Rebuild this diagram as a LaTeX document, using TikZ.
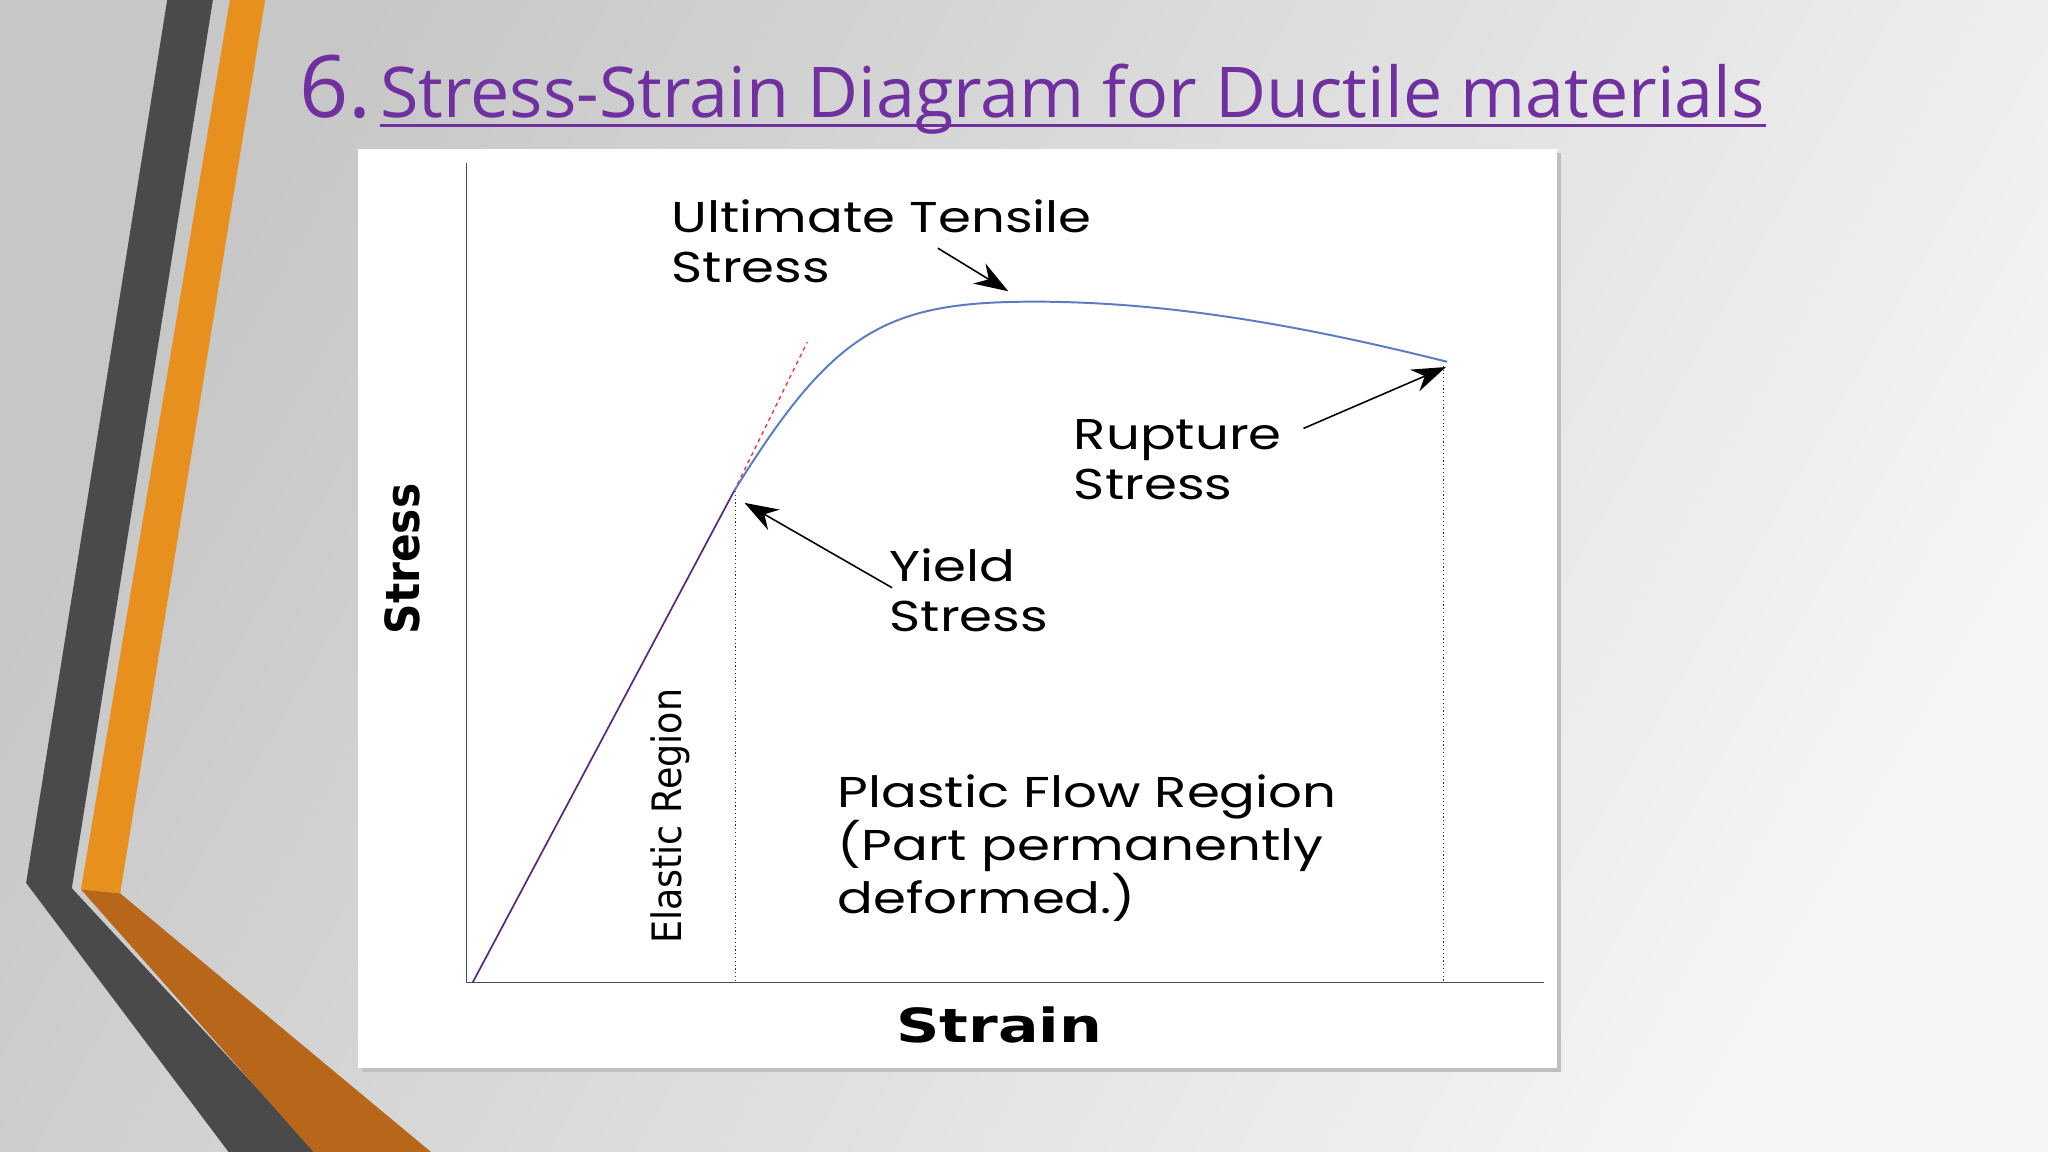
\documentclass[tikz,border=0pt]{standalone}
\usepackage{fontspec}
\setmainfont{DejaVu Sans}
\newfontfamily\titlefont{Open Sans}
\newfontfamily\chartfont{Poppins}
\usetikzlibrary{arrows.meta}
\definecolor{ttl}{HTML}{7030A0}
\definecolor{dgray}{HTML}{4A4A4A}
\definecolor{org}{HTML}{E8901E}
\definecolor{orgd}{HTML}{B8661A}
\definecolor{crv}{HTML}{5B7BC4}
\tikzset{
  lbl/.style={align=left,anchor=north west,inner sep=0pt,xscale=1.23,font=\chartfont\fontsize{33}{38}\selectfont},
  ax/.style={line width=1pt,black!70},
  dotl/.style={line width=0.9pt,dotted,black!80},
  arr/.style={line width=1.2pt,-{Stealth[length=26pt,width=18pt]}}
}
\begin{document}
\begin{tikzpicture}[x=1pt,y=-1pt]
\useasboundingbox (0,0) rectangle (1568,882);
\shade[left color=black!22,right color=white!96!black,shading angle=60] (0,0) rectangle (1568,882);
% left decoration
\fill[dgray] (128,0) -- (163,0) -- (55,680) -- (242,882) -- (175,882) -- (20,676) -- cycle;
\fill[org] (176,0) -- (203,0) -- (92,684) -- (62,681) -- cycle;
\fill[orgd] (62,681) -- (92,684) -- (330,882) -- (240,882) -- cycle;
% title
\node[anchor=base west,inner sep=0pt,text=ttl,font=\titlefont\fontsize{66}{70}\selectfont] (six) at (229,90) {6.};
\node[anchor=base west,inner sep=0pt,text=ttl,font=\titlefont\fontsize{53.6}{60}\selectfont] (ttl) at (291,90) {Stress-Strain Diagram for Ductile materials};
\draw[ttl,line width=2pt] (291,96) -- (1352,96);
% chart box
\fill[black!25] (277,117) rectangle (1195,821);
\fill[white] (274,114) rectangle (1192,818);
\draw[ax] (357,125) -- (357,752) -- (1182,752);
% curves
\draw[line width=1.3pt,ttl!80!black] (362,752) -- (562,376);
\draw[line width=1pt,red!80,dashed] (562,376) -- (618,262);
\draw[line width=1.5pt,crv] (562,376) .. controls (640,250) and (680,230) .. (800,231) .. controls (900,232) and (1000,250) .. (1108,277);
\draw[dotl] (563,376) -- (563,752);
\draw[dotl] (1105,280) -- (1105,752);
% labels
\node[lbl] (uts) at (514,153) {Ultimate Tensile\\Stress};
\node[lbl] (rs) at (822,321) {Rupture\\Stress};
\node[lbl] (ys) at (681,420) {Yield\\Stress};
\node[lbl] (pf) at (641,593) {Plastic Flow Region\\(Part permanently\\deformed.)};
\node[rotate=90,inner sep=0pt,font=\fontsize{31}{36}\selectfont,xscale=0.9] (el) at (513,625) {Elastic Region};
\node[inner sep=0pt,font=\bfseries\fontsize{36}{40}\selectfont,xscale=1.28] (sx) at (765,785) {Strain};
\node[rotate=90,inner sep=0pt,font=\bfseries\fontsize{36}{40}\selectfont,xscale=0.9] (sy) at (308,428) {Stress};
\coordinate (a1) at (718,190); \coordinate (b1) at (772,223);
\coordinate (a2) at (998,328); \coordinate (b2) at (1107,281);
\coordinate (a3) at (683,450); \coordinate (b3) at (570,385);
\draw[arr] (a1) -- (b1);
\draw[arr] (a2) -- (b2);
\draw[arr] (a3) -- (b3);
\end{tikzpicture}
\end{document}
